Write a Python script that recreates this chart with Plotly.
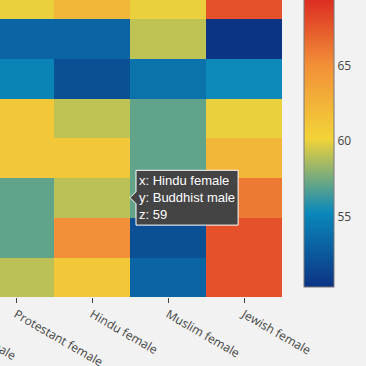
import plotly.graph_objects as go

# Visible columns (x) and rows (y, bottom to top)
x_labels = ["Protestant female", "Hindu female", "Muslim female", "Jewish female"]
hidden_x_label = "Orthodox female"
y_labels = ["Atheist male", "Catholic male", "Buddhist male", "Orthodox male",
            "Protestant male", "Hindu male", "Muslim male", "Jewish male"]

# z values, one list per row (bottom row first)
row0 = [59.0, 61.0, 53.2, 67.8]
row1 = [57.1, 65.1, 52.0, 67.8]
row2 = [57.1, 59.0, 57.1, 66.0]
row3 = [61.0, 61.0, 57.1, 62.3]
row4 = [61.0, 59.1, 57.1, 60.0]
row5 = [55.0, 52.0, 54.0, 55.3]
row6 = [53.2, 53.2, 59.1, 50.4]
row7 = [60.0, 62.3, 60.0, 67.8]
z = [row0, row1, row2, row3, row4, row5, row6, row7]

z_min = 50.35
z_max = 70.0

fig = go.Figure(
    go.Heatmap(
        x=x_labels,
        y=y_labels,
        z=z,
        zmin=z_min,
        zmax=z_max,
        colorscale="Portland",
        colorbar=dict(
            x=1.0426, xanchor="left",
            y=0, yanchor="bottom",
            lenmode="pixels", len=317,
            thickness=30,
            tickvals=[55, 60, 65],
            outlinewidth=1,
            outlinecolor="#777",
        ),
    )
)

fig.update_layout(
    width=366,
    height=366,
    margin=dict(l=0, r=84, t=0, b=69, autoexpand=False),
    paper_bgcolor="#f2f2f2",
    plot_bgcolor="#f2f2f2",
    font=dict(family="Open Sans", size=12, color="#444"),
    hovermode="closest",
    hoverlabel=dict(font=dict(family="Arial", size=13)),
    xaxis=dict(
        type="category",
        range=[-0.2105, 3.5],
        tickangle=30,
        ticks="outside",
        ticklen=5,
        tickcolor="#444",
        showgrid=False,
        zeroline=False,
    ),
    yaxis=dict(
        type="category",
        range=[-0.5, 6.978],
        showgrid=False,
        zeroline=False,
        ticks="",
    ),
    annotations=[
        dict(
            text=hidden_x_label,
            xref="paper", yref="paper",
            x=-75 / 282, y=-1 / 297,
            xanchor="left", yanchor="top",
            textangle=30,
            showarrow=False,
            font=dict(family="Open Sans", size=12, color="#444"),
        )
    ],
)

post = """
document.body.style.margin = '0';
document.documentElement.style.overflow = 'hidden';
var gd = document.getElementById('{plot_id}');
try { Plotly.Fx.hover(gd, {xval: 1, yval: 2}, 'xy'); } catch (e) {}
"""

fig.write_html("out.html", post_script=post, config={"displayModeBar": False})
